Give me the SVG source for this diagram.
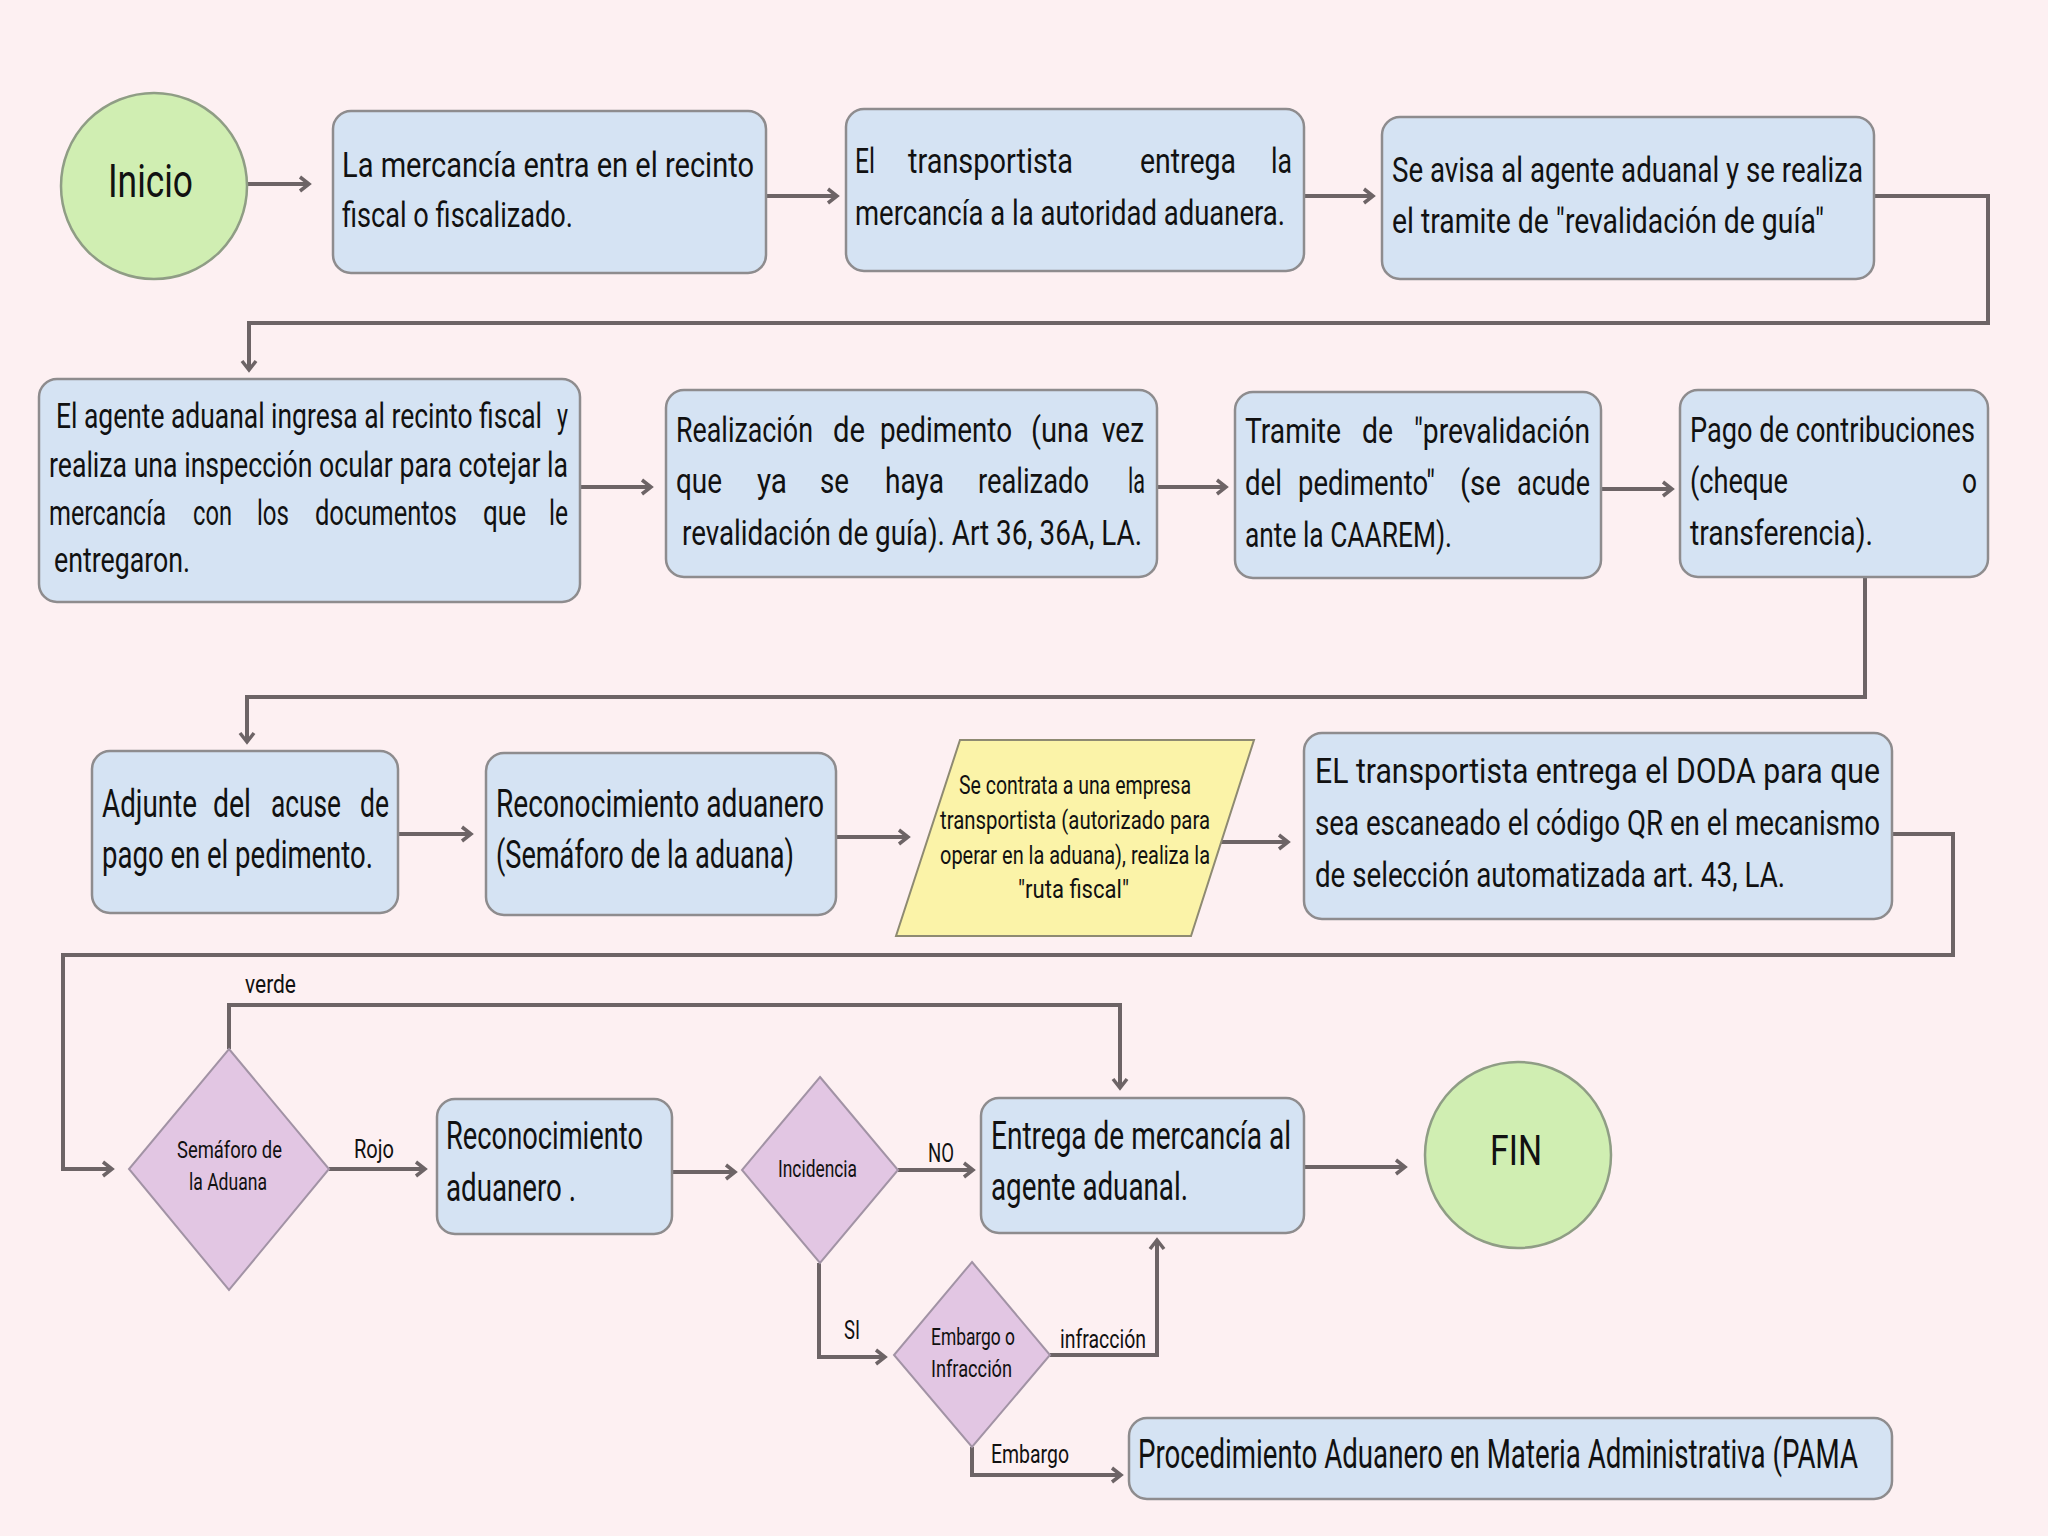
<svg xmlns="http://www.w3.org/2000/svg" width="2048" height="1536" viewBox="0 0 2048 1536">
<defs>
<style>
.box{fill:#d5e3f3;stroke:#8e8c8e;stroke-width:2.5}
.dia{fill:#e2c6e3;stroke:#a293a5;stroke-width:2}
.term{fill:#d0eeb2;stroke:#8f9d85;stroke-width:2.5}
.para{fill:#fbf3a8;stroke:#8e8a72;stroke-width:2}
.con{fill:none;stroke:#6d6466;stroke-width:4;marker-end:url(#arr)}
.t{font-family:Roboto,"Liberation Sans",sans-serif;fill:#111;font-size:35px}
.s{font-size:25px}
.m{font-size:38px}
</style>
<marker id="arr" markerUnits="userSpaceOnUse" markerWidth="16" markerHeight="18" refX="12" refY="9" orient="auto">
<path d="M3,2 L12,9 L3,16" fill="none" stroke="#6d6466" stroke-width="3.5"/>
</marker>
</defs>
<rect width="2048" height="1536" fill="#fdf0f2"/>

<g id="connectors">
<path class="con" d="M247,184 H309"/>
<path class="con" d="M766,196 H837"/>
<path class="con" d="M1304,196 H1373"/>
<path class="con" d="M1874,196 H1988 V323 H249 V370"/>
<path class="con" d="M580,487 H651"/>
<path class="con" d="M1157,487 H1226"/>
<path class="con" d="M1601,489 H1672"/>
<path class="con" d="M1865,577 V697 H247 V742"/>
<path class="con" d="M398,834 H471"/>
<path class="con" d="M836,837 H908"/>
<path class="con" d="M1221,842 H1288"/>
<path class="con" d="M1892,834 H1953 V955 H63 V1169 H112"/>
<path class="con" d="M229,1049 V1005 H1120 V1088"/>
<path class="con" d="M329,1169 H425"/>
<path class="con" d="M672,1172 H735"/>
<path class="con" d="M898,1170 H973"/>
<path class="con" d="M819,1263 V1357 H885"/>
<path class="con" d="M1050,1355 H1157 V1240"/>
<path class="con" d="M972,1447 V1475 H1121"/>
<path class="con" d="M1304,1167 H1405"/>
<text class="t s" x="245" y="993" textLength="51" lengthAdjust="spacingAndGlyphs">verde</text>
<text class="t s" x="354" y="1158" textLength="40" lengthAdjust="spacingAndGlyphs">Rojo</text>
<text class="t s" x="928" y="1162" textLength="26" lengthAdjust="spacingAndGlyphs">NO</text>
<text class="t s" x="844" y="1339" textLength="16" lengthAdjust="spacingAndGlyphs">SI</text>
<text class="t s" x="1060" y="1348" textLength="86" lengthAdjust="spacingAndGlyphs">infracción</text>
<text class="t s" x="991" y="1463" textLength="78" lengthAdjust="spacingAndGlyphs">Embargo</text>
</g>

<g id="inicio">
<circle class="term" cx="154" cy="186" r="93"/>
<text class="t" style="font-size:46px" x="108" y="197" textLength="85" lengthAdjust="spacingAndGlyphs">Inicio</text>
</g>

<g id="n2">
<rect class="box" x="333" y="111" width="433" height="162" rx="18"/>
<text class="t" x="342" y="177" textLength="412" lengthAdjust="spacingAndGlyphs">La mercancía entra en el recinto</text>
<text class="t" x="342" y="227" textLength="231" lengthAdjust="spacingAndGlyphs">fiscal o fiscalizado.</text>
</g>

<g id="n3">
<rect class="box" x="846" y="109" width="458" height="162" rx="18"/>
<text class="t" y="173"><tspan x="855" textLength="20" lengthAdjust="spacingAndGlyphs">El</tspan><tspan x="908" textLength="165" lengthAdjust="spacingAndGlyphs">transportista</tspan><tspan x="1140" textLength="96" lengthAdjust="spacingAndGlyphs">entrega</tspan><tspan x="1271" textLength="21" lengthAdjust="spacingAndGlyphs">la</tspan></text>
<text class="t" x="855" y="225" textLength="430" lengthAdjust="spacingAndGlyphs">mercancía a la autoridad aduanera.</text>
</g>

<g id="n4">
<rect class="box" x="1382" y="117" width="492" height="162" rx="18"/>
<text class="t" x="1392" y="182" textLength="471" lengthAdjust="spacingAndGlyphs">Se avisa al agente aduanal y se realiza</text>
<text class="t" x="1392" y="233" textLength="432" lengthAdjust="spacingAndGlyphs">el tramite de "revalidación de guía"</text>
</g>

<g id="n5">
<rect class="box" x="39" y="379" width="541" height="223" rx="18"/>
<text class="t" y="428"><tspan x="56" textLength="486" lengthAdjust="spacingAndGlyphs">El agente aduanal ingresa al recinto fiscal</tspan><tspan x="557" textLength="11" lengthAdjust="spacingAndGlyphs">y</tspan></text>
<text class="t" x="49" y="477" textLength="519" lengthAdjust="spacingAndGlyphs">realiza una inspección ocular para cotejar la</text>
<text class="t" y="525"><tspan x="49" textLength="117" lengthAdjust="spacingAndGlyphs">mercancía</tspan><tspan x="193" textLength="39" lengthAdjust="spacingAndGlyphs">con</tspan><tspan x="257" textLength="32" lengthAdjust="spacingAndGlyphs">los</tspan><tspan x="315" textLength="142" lengthAdjust="spacingAndGlyphs">documentos</tspan><tspan x="483" textLength="43" lengthAdjust="spacingAndGlyphs">que</tspan><tspan x="549" textLength="19" lengthAdjust="spacingAndGlyphs">le</tspan></text>
<text class="t" x="54" y="572" textLength="136" lengthAdjust="spacingAndGlyphs">entregaron.</text>
</g>

<g id="n6">
<rect class="box" x="666" y="390" width="491" height="187" rx="18"/>
<text class="t" y="442"><tspan x="676" textLength="137" lengthAdjust="spacingAndGlyphs">Realización</tspan><tspan x="833" textLength="32" lengthAdjust="spacingAndGlyphs">de</tspan><tspan x="880" textLength="132" lengthAdjust="spacingAndGlyphs">pedimento</tspan><tspan x="1031" textLength="58" lengthAdjust="spacingAndGlyphs">(una</tspan><tspan x="1102" textLength="42" lengthAdjust="spacingAndGlyphs">vez</tspan></text>
<text class="t" y="493"><tspan x="676" textLength="46" lengthAdjust="spacingAndGlyphs">que</tspan><tspan x="757" textLength="30" lengthAdjust="spacingAndGlyphs">ya</tspan><tspan x="820" textLength="29" lengthAdjust="spacingAndGlyphs">se</tspan><tspan x="885" textLength="59" lengthAdjust="spacingAndGlyphs">haya</tspan><tspan x="978" textLength="111" lengthAdjust="spacingAndGlyphs">realizado</tspan><tspan x="1128" textLength="17" lengthAdjust="spacingAndGlyphs">la</tspan></text>
<text class="t" x="682" y="545" textLength="460" lengthAdjust="spacingAndGlyphs">revalidación de guía). Art 36, 36A, LA.</text>
</g>

<g id="n7">
<rect class="box" x="1235" y="392" width="366" height="186" rx="18"/>
<text class="t" y="443"><tspan x="1245" textLength="96" lengthAdjust="spacingAndGlyphs">Tramite</tspan><tspan x="1362" textLength="31" lengthAdjust="spacingAndGlyphs">de</tspan><tspan x="1414" textLength="176" lengthAdjust="spacingAndGlyphs">"prevalidación</tspan></text>
<text class="t" y="495"><tspan x="1245" textLength="37" lengthAdjust="spacingAndGlyphs">del</tspan><tspan x="1298" textLength="137" lengthAdjust="spacingAndGlyphs">pedimento"</tspan><tspan x="1460" textLength="41" lengthAdjust="spacingAndGlyphs">(se</tspan><tspan x="1517" textLength="73" lengthAdjust="spacingAndGlyphs">acude</tspan></text>
<text class="t" x="1245" y="547" textLength="207" lengthAdjust="spacingAndGlyphs">ante la CAAREM).</text>
</g>

<g id="n8">
<rect class="box" x="1680" y="390" width="308" height="187" rx="18"/>
<text class="t" x="1690" y="442" textLength="285" lengthAdjust="spacingAndGlyphs">Pago de contribuciones</text>
<text class="t" y="493"><tspan x="1690" textLength="98" lengthAdjust="spacingAndGlyphs">(cheque</tspan><tspan x="1962" textLength="15" lengthAdjust="spacingAndGlyphs">o</tspan></text>
<text class="t" x="1690" y="545" textLength="183" lengthAdjust="spacingAndGlyphs">transferencia).</text>
</g>

<g id="n9">
<rect class="box" x="92" y="751" width="306" height="162" rx="18"/>
<text class="t m" y="817"><tspan x="102" textLength="95" lengthAdjust="spacingAndGlyphs">Adjunte</tspan><tspan x="213" textLength="38" lengthAdjust="spacingAndGlyphs">del</tspan><tspan x="271" textLength="70" lengthAdjust="spacingAndGlyphs">acuse</tspan><tspan x="360" textLength="29" lengthAdjust="spacingAndGlyphs">de</tspan></text>
<text class="t m" x="102" y="868" textLength="271" lengthAdjust="spacingAndGlyphs">pago en el pedimento.</text>
</g>

<g id="n10">
<rect class="box" x="486" y="753" width="350" height="162" rx="18"/>
<text class="t m" x="496" y="817" textLength="328" lengthAdjust="spacingAndGlyphs">Reconocimiento aduanero</text>
<text class="t m" x="496" y="868" textLength="298" lengthAdjust="spacingAndGlyphs">(Semáforo de la aduana)</text>
</g>

<g id="n11">
<polygon class="para" points="960,740 1254,740 1191,936 896,936"/>
<text class="t s" x="959" y="794" textLength="232" lengthAdjust="spacingAndGlyphs">Se contrata a una empresa</text>
<text class="t s" x="940" y="829" textLength="270" lengthAdjust="spacingAndGlyphs">transportista (autorizado para</text>
<text class="t s" x="940" y="864" textLength="270" lengthAdjust="spacingAndGlyphs">operar en la aduana), realiza la</text>
<text class="t s" x="1018" y="898" textLength="111" lengthAdjust="spacingAndGlyphs">"ruta fiscal"</text>
</g>

<g id="n12">
<rect class="box" x="1304" y="733" width="588" height="186" rx="18"/>
<text class="t" x="1315" y="783" textLength="565" lengthAdjust="spacingAndGlyphs">EL transportista entrega el DODA para que</text>
<text class="t" x="1315" y="835" textLength="565" lengthAdjust="spacingAndGlyphs">sea escaneado el código QR en el mecanismo</text>
<text class="t" x="1315" y="887" textLength="470" lengthAdjust="spacingAndGlyphs">de selección automatizada art. 43, LA.</text>
</g>

<g id="d13">
<polygon class="dia" points="229,1049 329,1169 229,1290 129,1169"/>
<text class="t" style="font-size:24px" x="177" y="1158" textLength="105" lengthAdjust="spacingAndGlyphs">Semáforo de</text>
<text class="t" style="font-size:24px" x="189" y="1190" textLength="78" lengthAdjust="spacingAndGlyphs">la Aduana</text>
</g>

<g id="n14">
<rect class="box" x="437" y="1099" width="235" height="135" rx="18"/>
<text class="t m" x="446" y="1149" textLength="197" lengthAdjust="spacingAndGlyphs">Reconocimiento</text>
<text class="t m" x="446" y="1201" textLength="130" lengthAdjust="spacingAndGlyphs">aduanero .</text>
</g>

<g id="d16">
<polygon class="dia" points="820,1077 898,1170 820,1263 742,1170"/>
<text class="t" style="font-size:24px" x="778" y="1177" textLength="79" lengthAdjust="spacingAndGlyphs">Incidencia</text>
</g>

<g id="n17">
<rect class="box" x="981" y="1098" width="323" height="135" rx="18"/>
<text class="t m" x="991" y="1149" textLength="300" lengthAdjust="spacingAndGlyphs">Entrega de mercancía al</text>
<text class="t m" x="991" y="1200" textLength="197" lengthAdjust="spacingAndGlyphs">agente aduanal.</text>
</g>

<g id="fin">
<circle class="term" cx="1518" cy="1155" r="93"/>
<text class="t" style="font-size:42px" x="1490" y="1165" textLength="52" lengthAdjust="spacingAndGlyphs">FIN</text>
</g>

<g id="d18">
<polygon class="dia" points="972,1262 1050,1355 972,1447 894,1355"/>
<text class="t" style="font-size:24px" x="931" y="1345" textLength="84" lengthAdjust="spacingAndGlyphs">Embargo o</text>
<text class="t" style="font-size:24px" x="931" y="1377" textLength="81" lengthAdjust="spacingAndGlyphs">Infracción</text>
</g>

<g id="pama">
<rect class="box" x="1129" y="1418" width="763" height="81" rx="18"/>
<text class="t" style="font-size:40px" x="1138" y="1468" textLength="720" lengthAdjust="spacingAndGlyphs">Procedimiento Aduanero en Materia Administrativa (PAMA</text>
</g>
</svg>
